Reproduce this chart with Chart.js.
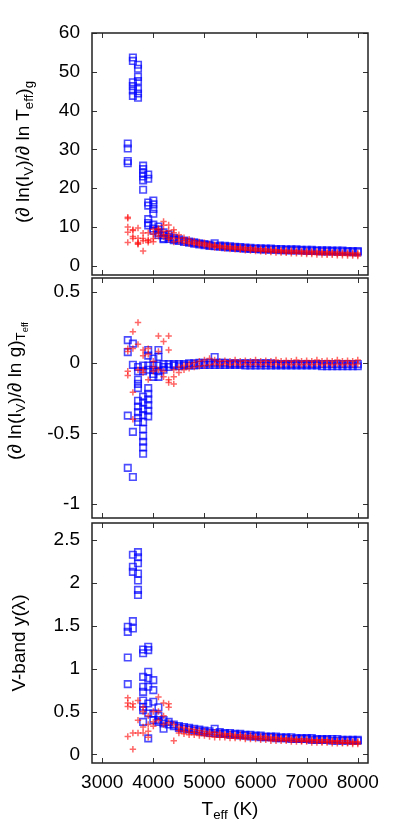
<!DOCTYPE html>
<html>
<head>
<meta charset="utf-8">
<script src="https://cdn.jsdelivr.net/npm/chart.js@4.4.1/dist/chart.umd.min.js"></script>
<style>
  html, body { margin: 0; padding: 0; background: #fff; }
  #wrap { position: relative; width: 415px; height: 829px; overflow: hidden; }
  canvas { position: absolute; left: 0; top: 0; }
  .lbl { position: absolute; white-space: nowrap; font: 19px "Liberation Sans", Arial, sans-serif; line-height: 19px; color: #000; transform: translate(-50%, -50%); }
  .rot { transform: translate(-50%, -50%) rotate(-90deg); }
  .sb { position: relative; top: 0.3em; font-size: 70%; }
</style>
</head>
<body>
<div id="wrap">
  <canvas id="c1" width="415" height="829"></canvas>
  <canvas id="c2" width="415" height="829"></canvas>
  <canvas id="c3" width="415" height="829"></canvas>
  <div class="lbl rot" style="left:23px; top:152px;">(∂ ln(I<span class="sb">V</span>)/∂ ln T<span class="sb">eff</span>)<span class="sb">g</span></div>
  <div class="lbl rot" style="left:16px; top:391px;">(∂ ln(I<span class="sb">V</span>)/∂ ln g)<span class="sb">T<span class="sb">eff</span></span></div>
  <div class="lbl rot" style="left:18px; top:643px;">V-band y(λ)</div>
  <div class="lbl" style="left:230px; top:809px;">T<span class="sb">eff</span> (K)</div>
</div>
<script>
// effective temperature grid (K)
const teff = [3500, 3600, 3700, 3800, 3900, 4000, 4100, 4200, 4300, 4400,
              4500, 4600, 4700, 4800, 4900, 5000, 5100, 5200, 5300, 5400,
              5500, 5600, 5700, 5800, 5900, 6000, 6100, 6200, 6300, 6400,
              6500, 6600, 6700, 6800, 6900, 7000, 7100, 7200, 7300, 7400,
              7500, 7600, 7700, 7800, 7900, 8000];

const xTicks = [3000, 4000, 5000, 6000, 7000, 8000];
const yTicks1 = [0, 10, 20, 30, 40, 50, 60];
const yTicks2 = [-1, -0.5, 0, 0.5];
const yTicks3 = [0, 0.5, 1, 1.5, 2, 2.5];

// panel 1: (d ln I_V / d ln Teff)_g, values at each teff
const dTeffBlue = [
  [31.5, 30.2, 27.0, 26.4], [53.7, 52.8, 47.3, 46.3, 45.2, 43.8],
  [51.8, 50.8, 48.7, 47.6, 45.6, 44.4, 43.3], [25.8, 24.9, 23.9, 23.0, 22.0, 19.6],
  [23.5, 22.4, 16.3, 15.5, 12.0, 11.0, 10.4], [16.8, 15.8, 14.6, 13.4, 10.6, 9.6, 9.0],
  [10.1, 9.3, 8.5, 7.9], [8.6, 7.8, 7.0, 6.8], [8.0, 7.4, 6.9], [7.2, 6.8, 6.6],
  [6.8, 6.4], [6.5, 6.1], [6.2, 5.9], [6.0, 5.7], [5.8, 5.5],
  [5.6, 5.3], [5.4, 5.1], [5.8, 5.0], [5.2, 4.9], [5.1, 4.8],
  [5.0, 4.7], [4.9, 4.6], [4.8, 4.5], [4.7, 4.4], [4.6, 4.3],
  [4.5, 4.3], [4.5, 4.2], [4.4, 4.2], [4.4, 4.1], [4.3, 4.1],
  [4.3, 4.0], [4.2, 4.0], [4.2, 3.9], [4.2, 3.9], [4.1, 3.9],
  [4.1, 3.8], [4.1, 3.8], [4.0, 3.8], [4.0, 3.7], [4.0, 3.7],
  [3.9, 3.7], [3.9, 3.6], [3.9, 3.6], [3.8, 3.6], [3.8, 3.5], [3.8, 3.5]
];
const dTeffRed = [
  [12.5, 12.2, 10.0, 8.6, 6.0], [9.3, 9.1, 7.5, 7.0], [9.7, 7.1, 6.0, 5.7, 5.5],
  [8.4, 7.0, 6.4, 3.8], [8.5, 6.7, 6.4, 6.0], [9.4, 8.1, 7.0, 6.2],
  [9.6, 9.2, 8.4, 7.6], [11.4, 10.4, 8.9, 8.0, 7.4], [10.5, 9.0, 8.0, 7.3, 6.8],
  [9.3, 8.5, 7.1, 6.1],
  [8.0, 7.0, 6.3], [7.2, 6.5, 5.9], [6.8, 6.2, 5.7], [6.4, 5.9, 5.5], [6.1, 5.7, 5.3],
  [5.9, 5.5, 5.1], [5.6, 5.3, 4.9], [5.4, 5.1, 4.7], [5.2, 4.9, 4.6], [5.1, 4.8, 4.4],
  [5.0, 4.6, 4.3], [4.9, 4.5, 4.2], [4.8, 4.4, 4.1], [4.7, 4.3, 4.0], [4.6, 4.2, 3.9],
  [4.5, 4.1, 3.8], [4.4, 4.0, 3.7], [4.3, 3.9, 3.6], [4.2, 3.8, 3.5], [4.1, 3.8, 3.4],
  [4.0, 3.7, 3.4], [4.0, 3.6, 3.3], [3.9, 3.6, 3.2], [3.9, 3.5, 3.2], [3.8, 3.5, 3.1],
  [3.8, 3.4, 3.0], [3.7, 3.4, 3.0], [3.7, 3.3, 2.9], [3.6, 3.3, 2.9], [3.6, 3.2, 2.8],
  [3.5, 3.2, 2.8], [3.5, 3.1, 2.7], [3.4, 3.1, 2.7], [3.4, 3.0, 2.6], [3.3, 3.0, 2.6], [3.3, 2.9, 2.5]
];

// panel 2: (d ln I_V / d ln g)_Teff
const dLoggBlue = [
  [0.16, 0.075, -0.375, -0.745], [0.135, -0.015, -0.49, -0.81],
  [-0.03, -0.06, -0.12, -0.15, -0.18, -0.27, -0.31, -0.35, -0.39, -0.42],
  [-0.02, -0.06, -0.24, -0.28, -0.33, -0.37, -0.42, -0.47, -0.52, -0.56, -0.6, -0.645],
  [0.09, 0.05, -0.02, -0.05, -0.18, -0.22, -0.26, -0.3, -0.34, -0.38],
  [0.03, -0.02, -0.05, -0.08, -0.1], [0.09, 0.04, -0.02, -0.06, -0.1],
  [-0.01, -0.03, -0.05], [-0.01, -0.03], [-0.01, -0.02],
  [-0.01, -0.025], [-0.01, -0.02], [-0.005, -0.02], [-0.005, -0.02], [0, -0.015],
  [0, -0.015], [0, -0.015], [0.04, 0, -0.015], [0, -0.015], [0, -0.015],
  [-0.005, -0.015], [-0.005, -0.015], [-0.005, -0.015], [-0.005, -0.02], [-0.005, -0.02],
  [-0.005, -0.02], [-0.005, -0.02], [-0.005, -0.02], [-0.005, -0.02], [-0.01, -0.02],
  [-0.01, -0.02], [-0.01, -0.02], [-0.01, -0.02], [-0.01, -0.02], [-0.01, -0.02],
  [-0.01, -0.02], [-0.01, -0.02], [-0.01, -0.02], [-0.01, -0.025], [-0.01, -0.025],
  [-0.01, -0.025], [-0.01, -0.025], [-0.01, -0.025], [-0.01, -0.025], [-0.01, -0.025], [-0.01, -0.025]
];
const dLoggRed = [
  [0.1, 0.08, -0.06, -0.09], [0.22, 0.1, -0.21, -0.4], [0.285, 0.13, -0.05],
  [0.09, 0.05, -0.05, -0.07], [0.1, 0.06, -0.12], [0.01, -0.03, -0.06],
  [0.19, 0.08, -0.05], [0.15, -0.06, -0.1], [0.19, 0.09, -0.12, -0.14], [-0.05, -0.1, -0.15],
  [-0.03, -0.07], [-0.02, -0.05], [-0.01, -0.04], [0, -0.03], [0.01, -0.025],
  [0.02, -0.02], [0.03, -0.015], [0.02, -0.01], [0.01, -0.015], [0.015, -0.01],
  [0.01, -0.015], [0.02, -0.01], [0.01, -0.015], [0.015, -0.01], [0.01, -0.015],
  [0.02, -0.01], [0.01, -0.015], [0.015, -0.01], [0.01, -0.015], [0.02, -0.01],
  [0.01, -0.015], [0.015, -0.01], [0.01, -0.015], [0.02, -0.01], [0.01, -0.015],
  [0.015, -0.01], [0.01, -0.015], [0.02, -0.01], [0.01, -0.015], [0.015, -0.01],
  [0.01, -0.015], [0.02, -0.01], [0.01, -0.015], [0.015, -0.01], [0.01, -0.015], [0.02, -0.01]
];

// panel 3: V-band y(lambda)
const yLamBlue = [
  [1.49, 1.43, 1.13, 0.82], [2.33, 2.19, 2.13, 1.555, 1.47],
  [2.36, 2.3, 2.23, 2.11, 2.03, 1.92, 1.86],
  [1.225, 1.18, 0.905, 0.79, 0.73, 0.63, 0.556, 0.517, 0.38],
  [1.256, 1.217, 0.964, 0.887, 0.79, 0.595, 0.478, 0.187],
  [0.867, 0.75, 0.614, 0.478, 0.4], [0.55, 0.45, 0.4, 0.38], [0.4, 0.36, 0.3],
  [0.38, 0.35], [0.35, 0.33],
  [0.33, 0.31], [0.32, 0.30], [0.31, 0.29], [0.30, 0.28], [0.29, 0.27],
  [0.28, 0.26], [0.27, 0.25], [0.30, 0.25], [0.26, 0.24], [0.25, 0.24],
  [0.25, 0.23], [0.24, 0.23], [0.24, 0.22], [0.23, 0.22], [0.23, 0.21],
  [0.22, 0.21], [0.22, 0.20], [0.21, 0.20], [0.21, 0.20], [0.21, 0.19],
  [0.20, 0.19], [0.20, 0.19], [0.20, 0.18], [0.19, 0.18], [0.19, 0.18],
  [0.19, 0.18], [0.19, 0.17], [0.18, 0.17], [0.18, 0.17], [0.18, 0.17],
  [0.18, 0.16], [0.18, 0.16], [0.17, 0.16], [0.17, 0.16], [0.17, 0.16], [0.17, 0.16]
];
const yLamRed = [
  [0.66, 0.6, 0.56, 0.21], [0.59, 0.55, 0.25, 0.06], [0.63, 0.4, 0.25],
  [0.55, 0.5, 0.32, 0.25], [0.45, 0.35, 0.27, 0.2], [0.5, 0.38, 0.33],
  [0.67, 0.5, 0.4], [0.6, 0.45, 0.35], [0.59, 0.55, 0.37], [0.35, 0.16],
  [0.32, 0.28, 0.25], [0.31, 0.27, 0.24], [0.30, 0.26, 0.23], [0.29, 0.26, 0.23], [0.28, 0.25, 0.22],
  [0.27, 0.24, 0.22], [0.26, 0.24, 0.21], [0.26, 0.23, 0.20], [0.25, 0.23, 0.20], [0.24, 0.22, 0.20],
  [0.24, 0.22, 0.19], [0.23, 0.21, 0.19], [0.23, 0.21, 0.19], [0.22, 0.20, 0.18], [0.22, 0.20, 0.18],
  [0.21, 0.20, 0.18], [0.21, 0.19, 0.17], [0.21, 0.19, 0.17], [0.20, 0.18, 0.16], [0.20, 0.18, 0.16],
  [0.19, 0.18, 0.16], [0.19, 0.17, 0.16], [0.19, 0.17, 0.15], [0.18, 0.17, 0.15], [0.18, 0.16, 0.15],
  [0.18, 0.16, 0.15], [0.17, 0.16, 0.14], [0.17, 0.16, 0.14], [0.17, 0.15, 0.14], [0.17, 0.15, 0.14],
  [0.16, 0.15, 0.13], [0.16, 0.15, 0.13], [0.16, 0.14, 0.13], [0.16, 0.14, 0.13], [0.15, 0.14, 0.12], [0.15, 0.14, 0.12]
];

const toPoints = vals => teff.flatMap((t, i) => (vals[i] || []).map(v => ({ x: t, y: v })));

const tickFont = { family: '"Liberation Sans", Arial, sans-serif', size: 19 };

// frame + inward tick marks on all four sides, like the gnuplot border
const framePlugin = {
  id: 'frame',
  afterDraw(chart) {
    const { ctx, chartArea: a, scales } = chart;
    const yt = chart.options.scales.y.tickValues;
    ctx.save();
    ctx.strokeStyle = '#333';
    ctx.lineWidth = 1;
    ctx.beginPath();
    xTicks.forEach(v => {
      const px = Math.round(scales.x.getPixelForValue(v)) + 0.5;
      ctx.moveTo(px, a.bottom); ctx.lineTo(px, a.bottom - 5);
      ctx.moveTo(px, a.top); ctx.lineTo(px, a.top + 5);
    });
    yt.forEach(v => {
      const py = Math.round(scales.y.getPixelForValue(v)) + 0.5;
      ctx.moveTo(a.left, py); ctx.lineTo(a.left + 5, py);
      ctx.moveTo(a.right, py); ctx.lineTo(a.right - 5, py);
    });
    ctx.stroke();
    ctx.strokeStyle = '#222';
    ctx.lineWidth = 1.5;
    ctx.strokeRect(a.left, a.top, a.right - a.left, a.bottom - a.top);
    ctx.restore();
  }
};

function makePanel(id, blue, red, yMin, yMax, yTicks, top, bottom, showX) {
  return new Chart(document.getElementById(id), {
    type: 'scatter',
    data: {
      datasets: [
        {
          label: 'red',
          data: toPoints(red),
          order: 0,
          pointStyle: 'cross',
          pointRadius: 3.2,
          pointBorderWidth: 1.5,
          pointBorderColor: 'rgba(255, 0, 0, 0.6)',
          pointBackgroundColor: 'rgba(255, 0, 0, 0.6)'
        },
        {
          label: 'blue',
          data: toPoints(blue),
          order: 1,
          pointStyle: 'rect',
          pointRadius: 4.6,
          pointBorderWidth: 1.6,
          pointBorderColor: 'rgba(0, 0, 255, 0.7)',
          pointBackgroundColor: 'rgba(0, 0, 0, 0)'
        }
      ]
    },
    options: {
      responsive: false,
      animation: false,
      events: [],
      layout: {
        autoPadding: false,
        padding: { left: 0, right: 47, top: top, bottom: showX ? 0 : 829 - bottom }
      },
      plugins: { legend: { display: false }, tooltip: { enabled: false } },
      scales: {
        x: {
          type: 'linear',
          min: 2800,
          max: 8200,
          display: showX,
          grid: { display: false, drawTicks: false },
          border: { display: false },
          ticks: { font: tickFont, color: '#000', padding: 8, maxRotation: 0, callback: v => String(v) },
          afterBuildTicks: s => { s.ticks = xTicks.map(v => ({ value: v })); },
          afterFit: s => { s.height = showX ? 829 - bottom : 0; }
        },
        y: {
          type: 'linear',
          min: yMin,
          max: yMax,
          tickValues: yTicks,
          grid: { display: false, drawTicks: false },
          border: { display: false },
          ticks: { font: tickFont, color: '#000', padding: 12, callback: v => String(v) },
          afterBuildTicks: s => { s.ticks = yTicks.map(v => ({ value: v })); },
          afterFit: s => { s.width = 92; }
        }
      }
    },
    plugins: [framePlugin]
  });
}

makePanel('c1', dTeffBlue, dTeffRed, -2.4, 60, yTicks1, 33, 275, false);
makePanel('c2', dLoggBlue, dLoggRed, -1.1, 0.6, yTicks2, 278, 518, false);
makePanel('c3', yLamBlue, yLamRed, -0.1, 2.7, yTicks3, 523, 763, true);
</script>
</body>
</html>
